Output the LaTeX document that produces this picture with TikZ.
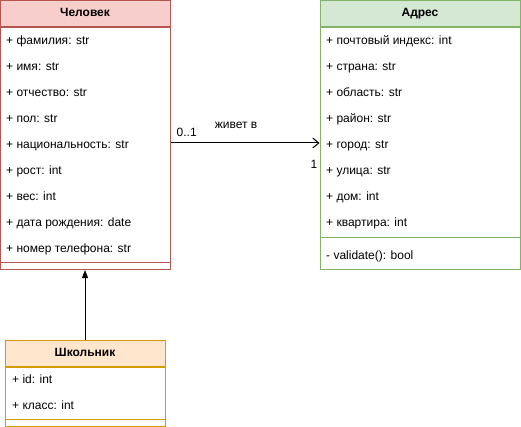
\documentclass[tikz,border=0pt]{standalone}
\usepackage{fontspec}
\setmainfont{Liberation Sans}
\usepackage{xcolor}
\usetikzlibrary{arrows.meta, positioning}
\definecolor{redfill}{HTML}{F8CECC}
\definecolor{redline}{HTML}{B85450}
\definecolor{greenfill}{HTML}{D5E8D4}
\definecolor{greenline}{HTML}{82B366}
\definecolor{orangefill}{HTML}{FFE6CC}
\definecolor{orangeline}{HTML}{D79B00}

\begin{document}
\begin{tikzpicture}[
  x=1pt, y=-1pt,
  classhead/.style={rectangle, draw, line width=1pt, minimum height=26pt, inner sep=0pt, text height=9pt, text depth=3pt, font=\fontsize{12}{14}\selectfont\bfseries},
  classbody/.style={rectangle, draw, line width=1pt, fill=white, inner sep=0pt},
  field/.style={anchor=west, inner sep=0pt, text height=9pt, text depth=3pt, font=\fontsize{12}{14}\selectfont},
  lbl/.style={inner sep=0pt, text height=9pt, text depth=3pt, font=\fontsize{12}{14}\selectfont},
  assoc/.style={-{Straight Barb[length=6pt, width=10pt]}, line width=1pt},
  inherit/.style={-{Triangle[length=8pt, width=6pt]}, line width=1pt}
]
  \useasboundingbox (0,0) rectangle (521,427);

  % Person class: header, body, fields
  \node[classhead, fill=redfill, draw=redline, minimum width=170pt] (chel) at (85,13.5) {Человек};
  \node[classbody, draw=redline, minimum width=170pt, minimum height=242pt, below=0pt of chel] (chelbody) {};
  \foreach \t [count=\i] in {+ фамилия: str, + имя: str, + отчество: str, + пол: str,
      + национальность: str, + рост: int, + вес: int, + дата рождения: date, + номер телефона: str}
    \node[field] (chel-\i) at (6,15.5+26*\i) {\t};
  \draw[redline, line width=1pt] (0,262) -- (170,262);

  % Address class
  \node[classhead, fill=greenfill, draw=greenline, minimum width=200pt] (adr) at (420,13.5) {Адрес};
  \node[classbody, draw=greenline, minimum width=200pt, minimum height=242pt, below=0pt of adr] (adrbody) {};
  \foreach \t [count=\i] in {+ почтовый индекс: int, + страна: str, + область: str, + район: str,
      + город: str, + улица: str, + дом: int, + квартира: int}
    \node[field] (adr-\i) at (326,15.5+26*\i) {\t};
  \draw[greenline, line width=1pt] (320,238) -- (520,238);
  \node[field] (adr-m) at (326,256.5) {- validate(): bool};

  % Pupil class
  \node[classhead, fill=orangefill, draw=orangeline, minimum width=160pt] (shk) at (85,353.5) {Школьник};
  \node[classbody, draw=orangeline, minimum width=160pt, minimum height=59pt, below=0pt of shk] (shkbody) {};
  \foreach \t [count=\i] in {+ id: int, + класс: int}
    \node[field] (shk-\i) at (12,354.5+26*\i) {\t};
  \draw[orangeline, line width=1pt] (5,419.5) -- (165,419.5);

  % Association and inheritance
  \draw[assoc] (chelbody.east |- 0,143) coordinate (a1) -- (adrbody.west |- 0,143) coordinate (a2);
  \node[lbl, above right=3.5pt and 6pt of a1] (mult1) {0..1};
  \node[lbl] (rel) at (236,125.5) {живет в};
  \node[lbl, below left=16pt and 2pt of a2] (mult2) {1};
  \draw[inherit] (shk.north) -- (chelbody.south);
\end{tikzpicture}
\end{document}
